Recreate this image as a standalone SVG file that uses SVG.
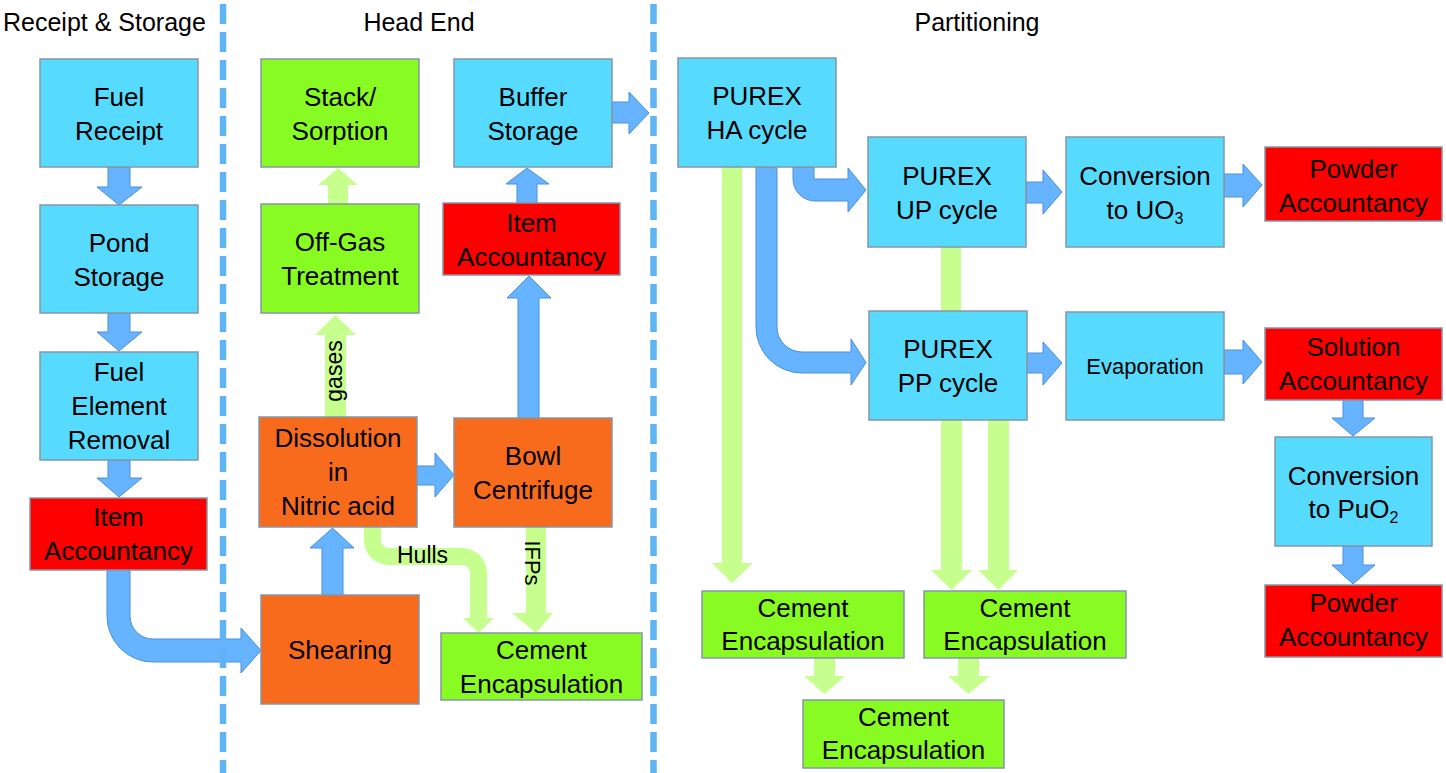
<svg xmlns="http://www.w3.org/2000/svg" width="1446" height="773" viewBox="0 0 1446 773">
<style>
.b{fill:#56DBFE;stroke:#8696A6;stroke-width:1.5}
.g{fill:#88FB22;stroke:#8696A6;stroke-width:1.5}
.o{fill:#F86B1C;stroke:#8696A6;stroke-width:1.5}
.r{fill:#FE0000;stroke:#8696A6;stroke-width:1.5}
.t{font-family:"Liberation Sans",Arial,sans-serif;font-size:26px;fill:#000;text-anchor:middle}
.ti{font-family:"Liberation Sans",Arial,sans-serif;font-size:25px;fill:#000}
.lb{font-family:"Liberation Sans",Arial,sans-serif;font-size:23px;fill:#000}
.ba{fill:#66B3FF;stroke:#4A8FD8;stroke-width:1}
.ga{fill:#C6FF8E}
.dash{stroke:#5FB4F5;stroke-width:6.5;stroke-dasharray:20 8;fill:none}
</style>
<rect width="1446" height="773" fill="#fff"/>
<g id="titles">
<text class="ti" x="3" y="31">Receipt &amp; Storage</text>
<text class="ti" x="419" y="31" text-anchor="middle">Head End</text>
<text class="ti" x="977" y="31" text-anchor="middle">Partitioning</text>
</g>
<g id="connectors">
<path class="ba" d="M108 167 L130 167 L130 187 L142 187 L119 205 L97 187 L108 187 Z"/>
<path class="ba" d="M108 313 L130 313 L130 332 L142 332 L119 351 L97 332 L108 332 Z"/>
<path class="ba" d="M108 460 L130 460 L130 478 L142 478 L119 497 L97 478 L108 478 Z"/>
<path class="ba" d="M1343 400 L1363 400 L1363 418 L1375 418 L1353 436 L1332 418 L1343 418 Z"/>
<path class="ba" d="M1343 546 L1363 546 L1363 565 L1375 565 L1353 584 L1332 565 L1343 565 Z"/>
<path class="ba" d="M322 595 L343 595 L343 548 L354 548 L332.5 528 L310 548 L322 548 Z"/>
<path class="ba" d="M518 418 L539 418 L539 298 L551 298 L529 276 L507 298 L518 298 Z"/>
<path class="ba" d="M517 203 L537 203 L537 184 L549 184 L527 168 L506 184 L517 184 Z"/>
<path class="ba" d="M417 466 L435 466 L435 453 L454 475 L435 497 L435 485 L417 485 Z"/>
<path class="ba" d="M612 102 L629 102 L629 92 L649 113 L629 134 L629 123 L612 123 Z"/>
<path class="ba" d="M1026 182 L1043 182 L1043 170 L1062 192 L1043 214 L1043 203 L1026 203 Z"/>
<path class="ba" d="M1027 353 L1043 353 L1043 342 L1062 363 L1043 385 L1043 373 L1027 373 Z"/>
<path class="ba" d="M1224 174 L1243 174 L1243 164 L1262 185 L1243 207 L1243 197 L1224 197 Z"/>
<path class="ba" d="M1224 350 L1243 350 L1243 340 L1262 362 L1243 384 L1243 374 L1224 374 Z"/>
<path class="ba" d="M107 570 L130 570 L130 616 A23 23 0 0 0 153 639 L241 639 L241 628 L261 650.5 L241 673 L241 662 L153 662 A46 46 0 0 1 107 616 Z"/>
<path class="ba" d="M793 167 L814 167 L814 179 L848 179 L848 168 L866 190 L848 212 L848 201 L815 201 A22 22 0 0 1 793 179 Z"/>
<path class="ba" d="M756 167 L777 167 L777 327 A25 25 0 0 0 802 352 L851 352 L851 339 L866 362.5 L851 385 L851 373 L802 373 A46 46 0 0 1 756 327 Z"/>
<path class="ga" d="M325 417 L346 417 L346 335 L356 335 L335.5 315 L315 335 L325 335 Z"/>
<path class="ga" d="M328 204 L348 204 L348 185 L358 185 L338 168 L318 185 L328 185 Z"/>
<path class="ga" d="M364 527 L381 527 L381 540 A8 8 0 0 0 389 548 L462 548 A25 25 0 0 1 487 573 L487 618 L494 618 L478.5 633 L463 618 L470 618 L470 573 A8 8 0 0 0 462 565 L389 565 A25 25 0 0 1 364 540 Z"/>
<path class="ga" d="M526 527 L546 527 L546 613 L553 613 L536 633 L512 613 L526 613 Z"/>
<path class="ga" d="M722 167 L742 167 L742 563 L753 563 L732 583 L712 563 L722 563 Z"/>
<rect class="ga" x="941" y="247" width="20" height="64"/>
<path class="ga" d="M941 420 L962 420 L962 570 L972 570 L951.5 590 L931 570 L941 570 Z"/>
<path class="ga" d="M988 420 L1009 420 L1009 570 L1018 570 L998.5 590 L978 570 L988 570 Z"/>
<path class="ga" d="M814 658 L835 658 L835 676 L845 676 L824.5 694 L804 676 L814 676 Z"/>
<path class="ga" d="M958 658 L979 658 L979 676 L990 676 L968.5 694 L948 676 L958 676 Z"/>
<text class="lb" transform="translate(342,371) rotate(-90)" text-anchor="middle">gases</text>
<text class="lb" x="397" y="563">Hulls</text>
<text class="lb" transform="translate(525,563) rotate(90)" text-anchor="middle" style="font-size:22px">IFPs</text>
</g>
<g id="dividers">
<line class="dash" x1="223" y1="4" x2="223" y2="773"/>
<line class="dash" x1="653.5" y1="4" x2="653.5" y2="773"/>
</g>
<g id="fuel-receipt"><rect class="b" x="40" y="59" width="158" height="108"/><text class="t" x="119" y="106">Fuel</text><text class="t" x="119" y="140">Receipt</text></g>
<g id="pond-storage"><rect class="b" x="40" y="205" width="158" height="108"/><text class="t" x="119" y="252">Pond</text><text class="t" x="119" y="286">Storage</text></g>
<g id="fuel-element-removal"><rect class="b" x="40" y="352" width="158" height="108"/><text class="t" x="119" y="381">Fuel</text><text class="t" x="119" y="415">Element</text><text class="t" x="119" y="449">Removal</text></g>
<g id="item-accountancy-1"><rect class="r" x="30" y="498" width="177" height="72"/><text class="t" x="118.5" y="526">Item</text><text class="t" x="118.5" y="560">Accountancy</text></g>
<g id="stack-sorption"><rect class="g" x="261" y="59" width="158" height="108"/><text class="t" x="340" y="106">Stack/</text><text class="t" x="340" y="140">Sorption</text></g>
<g id="off-gas"><rect class="g" x="261" y="204" width="158" height="109"/><text class="t" x="340" y="251">Off-Gas</text><text class="t" x="340" y="285">Treatment</text></g>
<g id="dissolution"><rect class="o" x="259" y="417" width="158" height="110"/><text class="t" x="338" y="447">Dissolution</text><text class="t" x="338" y="481">in</text><text class="t" x="338" y="515">Nitric acid</text></g>
<g id="shearing"><rect class="o" x="261" y="595" width="158" height="109"/><text class="t" x="340" y="659">Shearing</text></g>
<g id="buffer-storage"><rect class="b" x="454" y="59" width="158" height="108"/><text class="t" x="533" y="106">Buffer</text><text class="t" x="533" y="140">Storage</text></g>
<g id="item-accountancy-2"><rect class="r" x="443" y="203" width="177" height="72"/><text class="t" x="531.5" y="232">Item</text><text class="t" x="531.5" y="266">Accountancy</text></g>
<g id="bowl-centrifuge"><rect class="o" x="454" y="418" width="158" height="109"/><text class="t" x="533" y="465">Bowl</text><text class="t" x="533" y="499">Centrifuge</text></g>
<g id="cement-he"><rect class="g" x="441" y="633" width="201" height="67"/><text class="t" x="541.5" y="659">Cement</text><text class="t" x="541.5" y="693">Encapsulation</text></g>
<g id="purex-ha"><rect class="b" x="678" y="58" width="158" height="109"/><text class="t" x="757" y="105">PUREX</text><text class="t" x="757" y="139">HA cycle</text></g>
<g id="purex-up"><rect class="b" x="868" y="137" width="158" height="110"/><text class="t" x="947" y="185">PUREX</text><text class="t" x="947" y="219">UP cycle</text></g>
<g id="purex-pp"><rect class="b" x="869" y="311" width="158" height="109"/><text class="t" x="948" y="358">PUREX</text><text class="t" x="948" y="392">PP cycle</text></g>
<g id="conversion-uo3"><rect class="b" x="1066" y="137" width="158" height="110"/><text class="t" x="1145" y="185">Conversion</text><text class="t" x="1145" y="219">to UO<tspan style="font-size:16px" dy="5">3</tspan></text></g>
<g id="evaporation"><rect class="b" x="1066" y="312" width="158" height="108"/><text class="t" x="1145" y="374" style="font-size:22px">Evaporation</text></g>
<g id="powder-accountancy-1"><rect class="r" x="1265" y="147" width="177" height="74"/><text class="t" x="1353.5" y="178">Powder</text><text class="t" x="1353.5" y="212">Accountancy</text></g>
<g id="solution-accountancy"><rect class="r" x="1265" y="328" width="177" height="72"/><text class="t" x="1353.5" y="356">Solution</text><text class="t" x="1353.5" y="390">Accountancy</text></g>
<g id="conversion-puo2"><rect class="b" x="1275" y="437" width="157" height="109"/><text class="t" x="1353.5" y="485">Conversion</text><text class="t" x="1353.5" y="518">to PuO<tspan style="font-size:16px" dy="5">2</tspan></text></g>
<g id="powder-accountancy-2"><rect class="r" x="1265" y="585" width="177" height="72"/><text class="t" x="1353.5" y="612">Powder</text><text class="t" x="1353.5" y="646">Accountancy</text></g>
<g id="cement-1"><rect class="g" x="702" y="591" width="202" height="67"/><text class="t" x="803" y="617">Cement</text><text class="t" x="803" y="650">Encapsulation</text></g>
<g id="cement-2"><rect class="g" x="924" y="591" width="202" height="67"/><text class="t" x="1025" y="617">Cement</text><text class="t" x="1025" y="650">Encapsulation</text></g>
<g id="cement-3"><rect class="g" x="803" y="700" width="201" height="68"/><text class="t" x="903.5" y="726">Cement</text><text class="t" x="903.5" y="759">Encapsulation</text></g>
</svg>
